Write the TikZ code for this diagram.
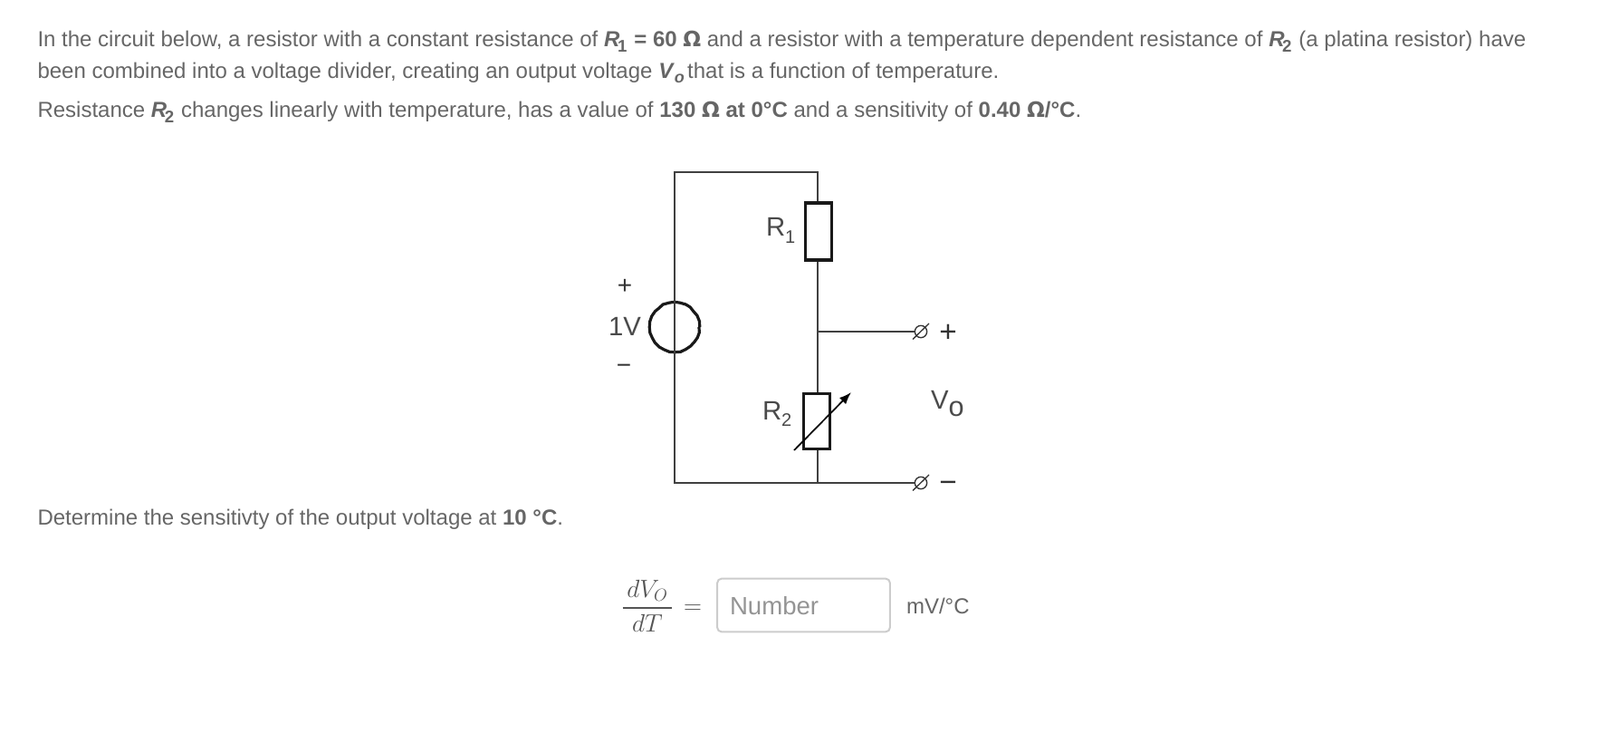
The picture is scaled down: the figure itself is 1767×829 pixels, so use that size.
\documentclass[tikz,border=0pt]{standalone}
\usepackage{fontspec}
\usepackage{amsmath}
\setmainfont{Liberation Sans}
\newfontfamily\omfont{DejaVu Sans}
\usetikzlibrary{arrows.meta,decorations.pathmorphing}
\definecolor{txt}{HTML}{666666}
\definecolor{lab}{HTML}{4A4A4A}
\definecolor{mathc}{HTML}{555555}
\newcommand{\Om}{{\omfont\bfseries\fontsize{17.5pt}{17.5pt}\selectfont Ω}}
\newcommand{\qsub}[2]{\textbf{\textit{#1}}\kern-0.1em\raisebox{-0.25em}{\fontsize{14pt}{14pt}\selectfont\textbf{#2}}\kern0.05em\relax}
\newcommand{\qsubi}[2]{\textbf{\textit{#1}}\raisebox{-0.22em}{\fontsize{13.5pt}{13.5pt}\selectfont\textbf{\textit{#2}}}\kern-2.6pt\relax}
\tikzset{
  body/.style={anchor=base west,inner sep=0pt,outer sep=0pt,text=txt,font=\fontsize{18pt}{18pt}\selectfont},
  lbl/.style={anchor=base west,inner sep=0pt,outer sep=0pt,text=lab,font=\fontsize{22pt}{22pt}\selectfont},
  sign/.style={inner sep=0pt,outer sep=0pt,text=black!80,font=\fontsize{21pt}{21pt}\selectfont},
  bigsign/.style={sign,font=\fontsize{25pt}{25pt}\selectfont},
  wire/.style={draw=black!75,line width=1.7pt},
  res/.style={draw=black!90,line width=2.6pt,fill=white,minimum width=21.5pt,inner sep=0pt},
  term/.style={circle,draw=black!80,line width=1pt,fill=white,minimum size=10pt,inner sep=0pt},
  field/.style={draw=black!20,line width=1.5pt,rounded corners=3.5pt,minimum width=143pt,minimum height=44pt,inner sep=0pt},
  mathtxt/.style={inner sep=0pt,outer sep=0pt,text=mathc,font=\fontsize{21pt}{21pt}\selectfont}
}
\begin{document}
\begin{tikzpicture}[x=0.75pt,y=-0.75pt]
\useasboundingbox (0,0) rectangle (1767,829);
\node[body] (l1) at (41.5,51) {In the circuit below, a resistor with a constant resistance of \qsub{R}{1} \textbf{= 60 \Om} and a resistor with a temperature dependent resistance of \qsub{R}{2} (a platina resistor) have};
\node[body] (l2) at (41.5,86) {been combined into a voltage divider, creating an output voltage \qsubi{V}{o} that is a function of temperature.};
\node[body] (l3) at (41.5,129) {Resistance \qsub{R}{2} changes linearly with temperature, has a value of \textbf{130 \Om\ at 0°C} and a sensitivity of \textbf{0.40 \Om/°C}.};
\node[body] (l4) at (41.5,579) {Determine the sensitivty of the output voltage at \textbf{10 °C}.};
% circuit
\coordinate (tl) at (745,190);
\coordinate (tr) at (903,190);
\coordinate (bl) at (745,533);
\coordinate (br) at (903,533);
\coordinate (mid) at (903,366);
\node[term] (tp) at (1017,366) {};
\node[term] (tm) at (1017,533) {};
\draw[draw=black!90,line width=2.4pt,decorate,decoration={random steps,segment length=4.5pt,amplitude=0.45pt}] (745,361) circle (27);
\coordinate (srcn) at (745,334);
\coordinate (srcs) at (745,388);
\node[res,minimum height=47.5pt] (r1) at (904,255.5) {};
\node[res,minimum height=45.5pt] (r2) at (902,465) {};
\draw[wire] (srcs) -- (srcn) -- (tl) -- (tr) -- (r1.north -| tr);
\draw[wire] (srcs) -- (bl) -- (br) -- (r2.south -| br);
\draw[wire] (r1.south -| mid) -- (mid) -- (r2.north -| mid);
\draw[wire] (mid) -- (tp.west);
\draw[wire] (br) -- (tm.west);
\coordinate (as) at (877,497);
\coordinate (ae) at (940,433);
\draw[draw=black,line width=1.3pt,-{Latex[length=10pt,width=7.5pt]}] (as) -- (ae);
\draw[draw=black!80,line width=1pt] (1008,374.5) -- (1026,357);
\draw[draw=black!80,line width=1pt] (1008,541.5) -- (1026,524);
\node[lbl] (lr1) at (846,260.5) {R\raisebox{-0.27em}{\fontsize{15pt}{15pt}\selectfont 1}};
\node[lbl] (lr2) at (842,463) {R\raisebox{-0.27em}{\fontsize{15pt}{15pt}\selectfont 2}};
\node[lbl] (lv) at (672,370) {1V};
\node[lbl] (lvo) at (1028,451) {V\raisebox{-0.3em}{\fontsize{23pt}{23pt}\selectfont o}};
\node[sign] (sp1) at (690,316) {+};
\node[sign] (sm1) at (689,404) {\vphantom{+}−};
\node[bigsign] (sp2) at (1047,368) {+};
\node[bigsign] (sm2) at (1047,534) {\vphantom{+}−};
% answer
\node[mathtxt] (frac) at (715,668.5) {$\genfrac{}{}{1.5pt}{0}{\,dV_O\,}{dT}$};
\node[mathtxt,font=\fontsize{22.5pt}{22.5pt}\selectfont] (eq) at (765,673) {$=$};
\node[field] (box) at (887.5,668) {};
\node[anchor=base west,inner sep=0pt,outer sep=0pt,text=black!42,font=\fontsize{20.7pt}{20.7pt}\selectfont] (num) at (806,678) {Number};
\node[anchor=base west,inner sep=0pt,outer sep=0pt,text=txt,font=\fontsize{18pt}{18pt}\selectfont] (unit) at (1001,677) {mV/°C};
\end{tikzpicture}
\end{document}
